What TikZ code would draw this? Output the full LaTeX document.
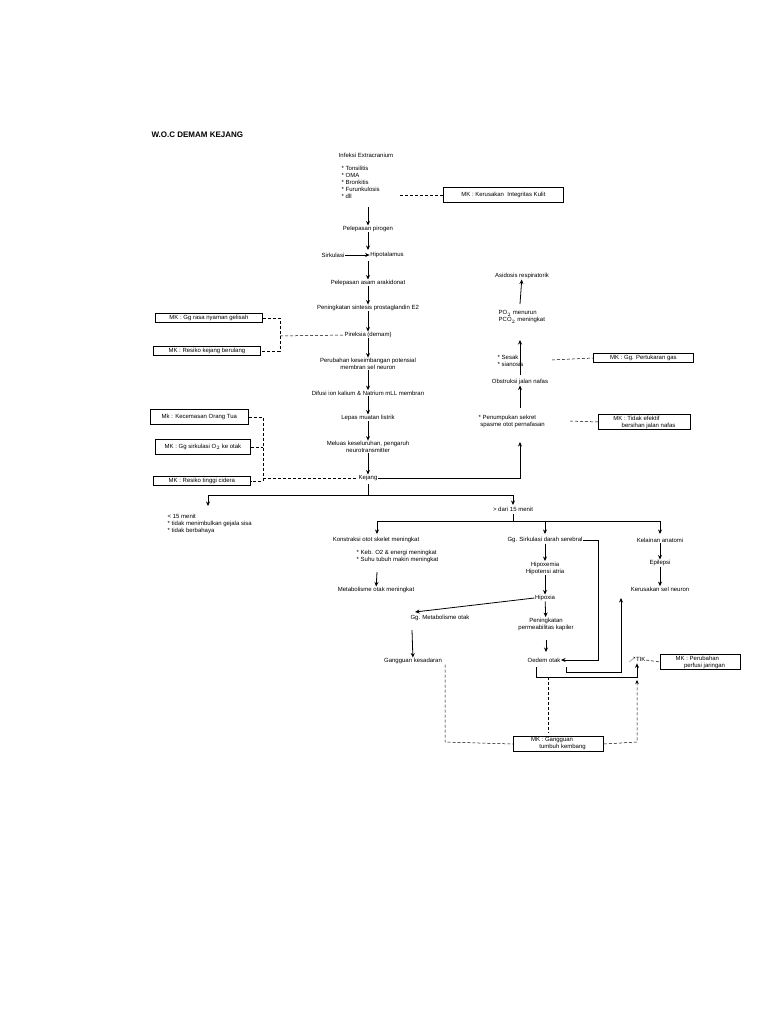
\documentclass[tikz,border=0pt]{standalone}
\usepackage{fontspec}
\setmainfont{Liberation Sans}
\usetikzlibrary{arrows.meta}
\begin{document}
\begin{tikzpicture}[x=1pt,y=-1pt,
 t/.style={font=\fontsize{6}{7}\selectfont,inner sep=0.5pt,align=center},
 tl/.style={t,align=left,anchor=west},
 mk/.style={draw,line width=0.8pt,font=\fontsize{6}{7}\selectfont,inner sep=1.5pt,align=left,anchor=west},
 ar/.style={-{Stealth[length=4.5pt,width=4pt]},line width=0.8pt},
 ln/.style={line width=0.8pt},
 dsh/.style={densely dashed,line width=0.5pt}]
\useasboundingbox (0,0) rectangle (768,1024);
\node[anchor=west,font=\bfseries\fontsize{8}{9}\selectfont] (title) at (148,135) {W.O.C DEMAM KEJANG};
% main chain
\node[t] (inf) at (366,155) {Infeksi Extracranium};
\node[tl] (lst) at (341,182) {* Tonsilitis\\* OMA\\* Bronkitis\\* Furunkulosis\\* dll};
\node[mk,minimum width=120pt,minimum height=15pt] (mk1) at (443,195) {MK : Kerusakan \ Integritas Kulit};
\draw[dsh] (400,195) -- (mk1.west);
\node[t] (pir) at (368,229) {Pelepasan pirogen};
\node[t] (sir) at (333,255) {Sirkulasi};
\node[t] (hip) at (387,255) {Hipotalamus};
\node[t] (ara) at (368,283) {Pelepasan asam arakidonat};
\node[t] (pros) at (368,308) {Peningkatan sintesis prostaglandin E2};
\node[t] (prk) at (368,335) {Pireksia (demam)};
\node[t] (pot) at (368,364) {Perubahan keseimbangan potensial\\membran sel neuron};
\node[t] (dif) at (368,393) {Difusi ion kalium \& Natrium mLL membran};
\node[t] (lep) at (368,418) {Lepas muatan listrik};
\node[t] (mel) at (368,447) {Meluas keseluruhan, pengaruh\\neurotransmitter};
\node[t] (kej) at (368,478) {Kejang};
\draw[ar] (368,207) -- (pir);
\draw[ar] (pir) -- (368,250);
\draw[ar] (sir) -- (hip);
\draw[ar] (368,261) -- (ara);
\draw[ar] (ara) -- (pros);
\draw[ar] (pros) -- (prk);
\draw[ar] (prk) -- (pot);
\draw[ar] (pot) -- (dif);
\draw[ar] (dif) -- (lep);
\draw[ar] (lep) -- (mel);
\draw[ar] (mel) -- (kej);
% left MK
\node[mk,minimum width=107pt] (mk2) at (155,318) {MK : Gg rasa nyaman gelisah};
\node[mk,minimum width=107pt] (mk3) at (153,351) {MK : Resiko kejang berulang};
\draw[dsh] (mk2.east) -- (280,318) -- (280,351) -- (mk3.east);
\draw[dsh] (280,336) -- (prk.west);
\node[mk,minimum width=98pt,minimum height=15pt] (mk4) at (150,417) {Mk : Kecemasan Orang Tua};
\node[mk,minimum width=95pt,minimum height=15pt] (mk5) at (155,447) {MK : Gg sirkulasi O$_2$ ke otak};
\node[mk,minimum width=97pt] (mk6) at (153,481) {MK : Resiko tinggi cidera};
\draw[dsh] (mk4.east) -- (263,417) -- (263,481) -- (mk6.east);
\draw[dsh] (mk5.east) -- (263,447);
\draw[dsh] (263,478) -- (kej.west);
% right chain
\node[tl] (pen) at (478,421) {* Penumpukan sekret\\ \ spasme otot pernafasan};
\node[t] (obs) at (520,382) {Obstruksi jalan nafas};
\node[tl] (ses) at (497,361) {* Sesak\\* sianosis};
\node[tl] (po2) at (498,317) {PO$_2$ menurun\\PCO$_2$ meningkat};
\node[t] (asi) at (522,276) {Asidosis respiratorik};
\draw[ar] (kej.east) -- (520,478) -- (520,442);
\draw[ar] (520,408) -- (obs);
\draw[ar] (520,375) -- (520,340);
\draw[ar] (520,304) -- (asi);
\node[mk,minimum width=100pt] (mk7) at (593,358) {MK : Gg. Pertukaran gas};
\draw[dsh] (552,360) -- (mk7.west);
\node[mk,minimum width=92pt] (mk8) at (598,422) {MK : Tidak efektif\\ \ \ \ \ \ bersihan jalan nafas};
\draw[dsh] (570,421) -- (mk8.west);
% branches
\coordinate (bl) at (208,495); \coordinate (br) at (513,495);
\draw[ln] (368,484) -- (368,495);
\draw[ar] (bl) -- (208,506) ;
\draw[ar] (368,495) -- (br) -- (513,505);
\draw[ln] (bl) -- (368,495);
\node[tl] (lt15) at (167,524) {< 15 menit\\* tidak menimbulkan gejala sisa\\* tidak berbahaya};
\node[t] (gt15) at (513,509) {> dari 15 menit};
\draw[ln] (513,514) -- (513,521);
\draw[ar] (377,521) -- (377,534);
\draw[ar] (545,521) -- (545,534);
\draw[ar] (377,521) -- (660,521) -- (660,534);
\node[t] (kon) at (376,540) {Konstraksi otot skelet meningkat};
\node[tl] (keb) at (356,556) {* Keb. O2 \& energi meningkat\\* Suhu tubuh makin meningkat};
\node[t] (met) at (376,590) {Metabolisme otak meningkat};
\draw[ar] (377,572) -- (met);
\node[t] (gsd) at (545,540) {Gg. Sirkulasi darah serebral};
\node[t] (hpx) at (545,568) {Hipoxemia\\Hipotensi atria};
\node[t] (hpo) at (545,598) {Hipoxia};
\node[t] (gmo) at (440,618) {Gg. Metabolisme otak};
\node[t] (pkp) at (546,624) {Peningkatan\\permeabilitas kapiler};
\node[t] (oed) at (544,660) {Oedem otak};
\node[t] (gks) at (413,661) {Gangguan kesadaran};
\draw[ar] (gsd) -- (hpx);
\draw[ar] (hpx) -- (hpo);
\draw[ar] (hpo.west) -- (415,612);
\draw[ar] (hpo) -- (pkp);
\draw[ar] (546,640) -- (546,652);
\draw[ar] (412,630) -- (gks);
\draw[ar] (gsd.east) -- (598,540) -- (598,660) -- (oed.east);
\node[t] (kel) at (660,540) {Kelainan anatomi};
\node[t] (epi) at (660,563) {Epilepsi};
\node[t] (ksn) at (660,589) {Kerusakan sel neuron};
\draw[ar] (kel) -- (epi);
\draw[ar] (epi) -- (ksn);
\node[t] (tik) at (637,660) {$\nearrow$TIK};
\node[mk,minimum width=80pt] (mk9) at (660,662) {MK : Perubahan\\ \ \ \ \ \ perfusi jaringan};
\draw[dsh] (tik.east) -- (mk9.west);
\draw[ar] (536,667) -- (536,677) -- (637,677) -- (tik.south);
\draw[ar] (566,667) -- (566,672) -- (621,672) -- (621,598);
\node[mk,minimum width=90pt] (mk10) at (513,744) {MK : Gangguan\\ \ \ \ \ \ tumbuh kembang};
\draw[dsh] (gks.south -| 445,0) -- (445,742) -- (mk10.west);
\draw[dsh] (548,677) -- (548,733);
\draw[dsh,-{Stealth[length=4pt,width=3.5pt]}] (mk10.east) -- (637,742) -- (637,680);
\end{tikzpicture}
\end{document}
